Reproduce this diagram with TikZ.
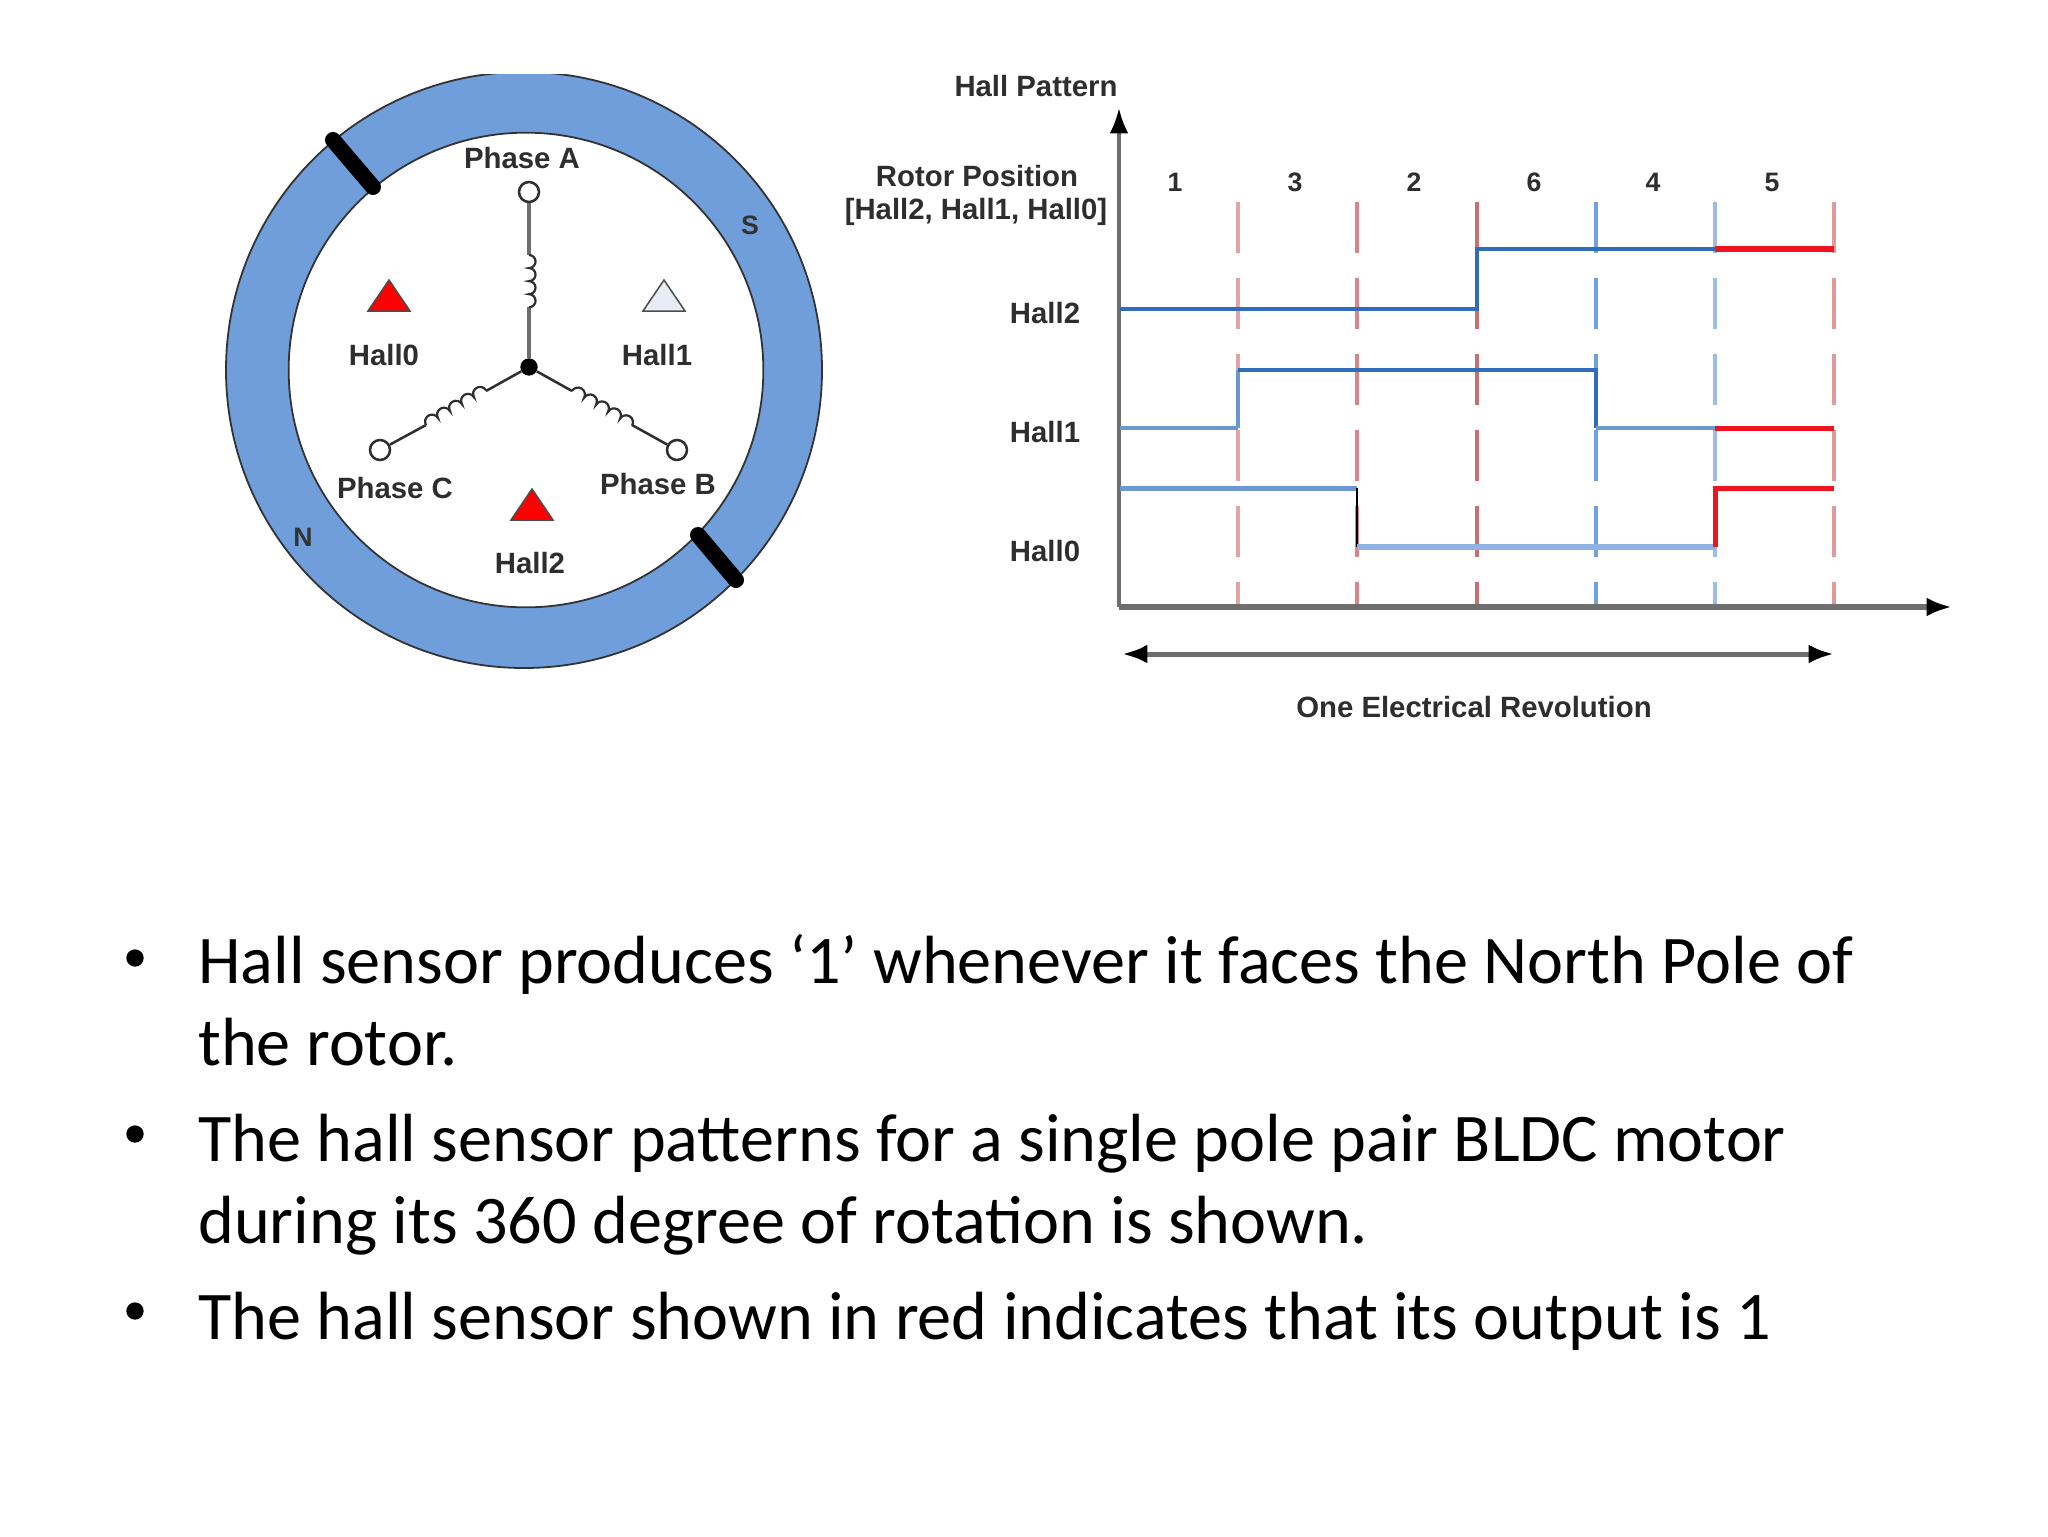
\documentclass[tikz,border=0pt]{standalone}
\usepackage{fontspec}
\setmainfont{Carlito}
\newfontfamily\diagfont{Liberation Sans}
\usetikzlibrary{arrows.meta}
\definecolor{ringblue}{HTML}{6F9EDA}
\definecolor{labelgrey}{HTML}{2E2E2E}
\definecolor{axisgrey}{HTML}{6E6E6E}
\definecolor{sigdark}{HTML}{2F6CBA}
\definecolor{sigmid}{HTML}{6C97CF}
\definecolor{siglight}{HTML}{8FB2E3}
\definecolor{sigred}{HTML}{F0141E}
\definecolor{halloffc}{HTML}{E8EDF5}
\tikzset{
  px/.style={line width=#1*0.75pt},
  lab/.style={font=\diagfont\bfseries\fontsize{22}{25}\selectfont,text=labelgrey,inner sep=0pt,align=center},
  num/.style={font=\diagfont\bfseries\fontsize{20}{23}\selectfont,text=labelgrey,inner sep=0pt},
  body/.style={font=\fontsize{51.15}{60}\selectfont,text=black,anchor=base west,inner sep=0pt},
  bulletdot/.style={circle,fill=black,minimum size=13pt,inner sep=0pt},
  terminal/.style={circle,draw=labelgrey,fill=white,px=2.5,minimum size=15pt,inner sep=0pt},
  hub/.style={circle,fill=black,minimum size=13pt,inner sep=0pt},
  gridline/.style={px=3.5,dash pattern=on 38.25pt off 18.75pt},
  hallon/.style={draw=black!70,fill=red,px=1.5},
  halloff/.style={draw=black!70,fill=halloffc,px=1.5},
  wire/.style={draw=#1,px=2.5},
  coilwire/.style={draw=labelgrey,px=2.2},
  axis/.style={draw=axisgrey,-{Latex[black,length=19pt,width=14pt]}}
}
\begin{document}
\begin{tikzpicture}[x=0.75pt,y=-0.75pt]
\useasboundingbox (0,0) rectangle (2048,1536);
\fill[white] (0,0) rectangle (2048,1536);

% Rotor ring
\coordinate (c) at (524,370);
\coordinate (ci) at (526,370);
\begin{scope}
  \clip (0,74) rectangle (1000,800);
  \fill[ringblue,even odd rule] (c) circle[radius=223.5pt] (ci) circle[radius=178pt];
  \draw[black!80,px=1.8] (c) circle[radius=223.5pt];
  \draw[black!80,px=1.8] (ci) circle[radius=178pt];
\end{scope}
\coordinate (b1a) at (333,140);
\coordinate (b1b) at (373,187);
\coordinate (b2a) at (698,535);
\coordinate (b2b) at (736,580);
\draw[black,px=16,line cap=round] (b1a) -- (b1b);
\draw[black,px=16,line cap=round] (b2a) -- (b2b);
\node[num,text=black!80] (S) at (750,225) {S};
\node[num,text=black!80] (N) at (303,537) {N};

% Star winding
\node[hub] (hub) at (529,367) {};
\node[terminal] (tA) at (529,192) {};
\node[terminal] (tB) at (677,450) {};
\node[terminal] (tC) at (380,450) {};
\coordinate (a1) at (529,255);
\coordinate (a2) at (529,307);
\coordinate (b1) at (572,391);
\coordinate (b2) at (632,425);
\coordinate (c1) at (486,391);
\coordinate (c2) at (426,425);
\draw[wire=axisgrey,px=4] (tA) -- (a1);
\draw[wire=axisgrey,px=4] (a2) -- (hub);
\draw[coilwire] (a1) \foreach \i in {1,...,4}{ arc[start angle=90,end angle=-90,radius=4.9pt] };
\draw[wire=labelgrey] (hub) -- (b1);
\draw[wire=labelgrey] (b2) -- (tB);
\draw[coilwire] (b1) \foreach \i in {1,...,5}{ arc[start angle=150,end angle=-30,radius=5.2pt] };
\draw[wire=labelgrey] (hub) -- (c1);
\draw[wire=labelgrey] (c2) -- (tC);
\draw[coilwire] (c2) \foreach \i in {1,...,5}{ arc[start angle=210,end angle=30,radius=5.2pt] };

\node[lab] (pa) at (522,158) {Phase A};
\node[lab] (pb) at (658,484) {Phase B};
\node[lab] (pc) at (395,488) {Phase C};
\draw[hallon] (389,280) -- (410,311) -- (368,311) -- cycle;
\draw[halloff] (664,280) -- (685,311) -- (643,311) -- cycle;
\draw[hallon] (532,489) -- (553,520) -- (511,520) -- cycle;
\node[lab] (h0) at (384,355) {Hall0};
\node[lab] (h1) at (657,355) {Hall1};
\node[lab] (h2) at (530,563) {Hall2};

% Chart: grid lines
\foreach \xx/\cc in {1238/E3A3A6,1357/D88488,1477/C96F72,1596/6FA1DE,1715/9CBDEA,1834/E09A9C}{
  \definecolor{gc}{HTML}{\cc}
  \draw[gc,gridline] (\xx,202) -- (\xx,607);
}

% Axes
\coordinate (o) at (1119,607);
\coordinate (ytop) at (1119,108);
\coordinate (xend) at (1952,607);
\draw[axis,px=3.5] (o) -- (ytop);
\draw[axis,px=6] (o) -- (xend);
\coordinate (ra) at (1122,654);
\coordinate (rb) at (1834,654);
\draw[draw=axisgrey,px=5,{Latex[black,length=19pt,width=14pt]}-{Latex[black,length=19pt,width=14pt]}] (ra) -- (rb);

% Signals
\draw[sigdark,px=3.5] (1120,309) -- (1477,309) -- (1477,249) -- (1715,249);
\draw[sigred,px=5.5] (1715,249) -- (1834,249);
\draw[sigmid,px=4.5] (1120,428) -- (1238,428);
\draw[sigmid,px=3.5] (1238,428) -- (1238,370);
\draw[sigdark,px=3.5] (1238,370) -- (1596,370) -- (1596,428);
\draw[sigmid,px=3.5] (1596,428) -- (1715,428);
\draw[sigred,px=5] (1715,428) -- (1834,428);
\draw[sigmid,px=5] (1120,488) -- (1357,488);
\draw[black,px=2.5] (1357,488) -- (1357,547);
\draw[siglight,px=5.5] (1357,547) -- (1715,547);
\draw[sigred,px=5,line join=miter] (1715,547) -- (1715,488) -- (1834,488);

% Chart labels
\node[lab] (hp) at (1036,86) {Hall Pattern};
\node[lab] (rp) at (977,176) {Rotor Position};
\node[lab] (rh) at (976,212) {[Hall2, Hall1, Hall0]};
\foreach \xx/\nn in {1175/1,1295/3,1414/2,1534/6,1653/4,1772/5}{
  \node[num] at (\xx,182) {\nn};
}
\node[lab] (l2) at (1045,313) {Hall2};
\node[lab] (l1) at (1045,432) {Hall1};
\node[lab] (l0) at (1045,551) {Hall0};
\node[lab] (rev) at (1474,707) {One Electrical Revolution};

% Body text
\node[bulletdot] (d1) at (135,958) {};
\node[bulletdot] (d2) at (135,1134) {};
\node[bulletdot] (d3) at (135,1311) {};
\node[body] (t1) at (198,983) {Hall sensor produces ‘1’ whenever it faces the North Pole of};
\node[body] (t2) at (198,1065) {the rotor.};
\node[body] (t3) at (198,1161) {The hall sensor patterns for a single pole pair BLDC motor};
\node[body] (t4) at (198,1243) {during its 360 degree of rotation is shown.};
\node[body] (t5) at (198,1339) {The hall sensor shown in red indicates that its output is 1};
\end{tikzpicture}
\end{document}
